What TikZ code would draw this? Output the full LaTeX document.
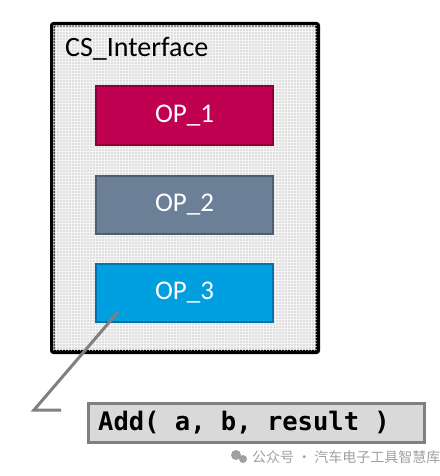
\documentclass[tikz,border=0pt]{standalone}
\usepackage{fontspec}
\setmainfont{Carlito}
\newfontfamily\codefont{DejaVu Sans Mono}
\newfontfamily\cjkfont{Noto Sans CJK SC}
\definecolor{opone}{HTML}{C00050}
\definecolor{oponeb}{HTML}{8E003A}
\definecolor{optwo}{HTML}{6B7F96}
\definecolor{optwob}{HTML}{4E5E70}
\definecolor{opthree}{HTML}{009FE0}
\definecolor{opthreeb}{HTML}{0073AE}
\definecolor{framefill}{HTML}{E0E0E0}
\definecolor{linegray}{HTML}{808080}
\definecolor{codefill}{HTML}{D9D9D9}
\definecolor{wmgray}{HTML}{A0A0A0}
\begin{document}
\begin{tikzpicture}[x=1pt,y=-1pt,
  opbox/.style={draw, line width=2pt, minimum width=177pt, minimum height=58pt, inner sep=0pt,
    text=white, font=\fontsize{27}{30}\selectfont},
  framebox/.style={draw=black, line width=3pt, fill=framefill, rounded corners=2pt,
    minimum width=264pt, minimum height=326pt, inner sep=0pt},
  codebox/.style={draw=linegray, line width=3pt, fill=codefill, minimum width=336pt,
    minimum height=39pt, inner sep=0pt, font=\codefont\bfseries\fontsize{25.5}{28}\selectfont},
  leader/.style={draw=linegray, line width=3pt}
]
\useasboundingbox (0,0) rectangle (439,476);
\node[framebox] (frame) at (185,188) {};
\begin{scope}
\clip (53,25) rectangle (317,351);
\foreach \i in {0,3,...,330} {
  \draw[white, line width=0.5pt, opacity=0.6] (53,25+\i) -- (317,25+\i);
}
\foreach \i in {0,3,...,270} {
  \draw[white, line width=0.5pt, opacity=0.6] (53+\i,25) -- (53+\i,351);
}
\end{scope}
\draw[black, line width=3pt, rounded corners=2pt] (frame.north west) rectangle (frame.south east);
\node[anchor=base west, font=\fontsize{28}{30}\selectfont, inner sep=0pt] (title) at (65,57) {CS\_Interface};
\node[opbox, fill=opone, draw=oponeb] (op1) at (184.5,115.5) {OP\_1};
\node[opbox, fill=optwo, draw=optwob] (op2) at (184.5,205) {OP\_2};
\node[opbox, fill=opthree, draw=opthreeb] (op3) at (184.5,292.5) {OP\_3};
\coordinate (tip) at (118,312);
\coordinate (bend) at (34,410);
\coordinate (lend) at (61,410);
\draw[leader] (tip) -- (bend) -- (lend);
\node[codebox] (code) at (256,422.5) {\hspace*{-24pt}Add( a, b, result )};
\node[anchor=west, inner sep=0pt, text=wmgray, font=\cjkfont\fontsize{14}{16}\selectfont] (wm) at (252,457) {公众号 · 汽车电子工具智慧库};
\fill[wmgray] (236,455) circle (5pt);
\fill[wmgray] (243,459) circle (4pt);
\end{tikzpicture}
\end{document}
